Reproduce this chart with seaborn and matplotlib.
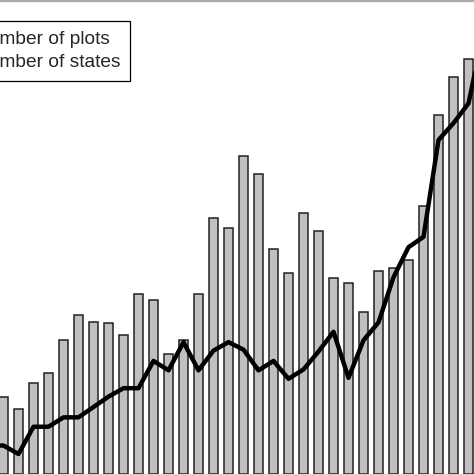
import matplotlib
matplotlib.use("Agg")
import matplotlib.pyplot as plt
from matplotlib.patches import Patch
from matplotlib.lines import Line2D
import seaborn as sns
import pandas as pd

sns.set_style("white")
plt.rcParams['font.family'] = ['Liberation Sans', 'DejaVu Sans']

# Data
years = list(range(1980, 2012))
plots = [19.2, 16.2, 22.8, 25.2, 33.5, 39.8, 38.0, 37.8, 34.8, 45.0,
         43.5, 30.0, 33.5, 45.0, 64.0, 61.5, 79.5, 75.0, 56.2, 50.2,
         65.2, 60.8, 49.0, 47.8, 40.5, 50.8, 51.5, 53.5, 67.0, 89.8,
         99.2, 103.8]
state_years = list(range(1979, 2013))
states = [2.9, 2.9, 2.0, 4.9, 4.9, 5.9, 5.9, 7.0, 8.1, 9.0,
          9.0, 11.9, 10.9, 13.9, 10.9, 13.0, 13.9, 13.1, 10.9, 11.9,
          10.0, 11.0, 12.9, 15.0, 10.1, 14.1, 16.0, 20.8, 24.0, 25.1,
          35.4, 37.2, 39.3, 46.9]
labels = ["Number of plots", "Number of states"]

W = 474
fig = plt.figure(figsize=(4.74, 4.74), dpi=100)
ax = fig.add_axes([0, 0, 1, 1])

df_bars = pd.DataFrame({"year": [str(y) for y in years], "plots": plots})
sns.barplot(data=df_bars, x="year", y="plots", color="#c0c0c0", saturation=1,
            edgecolor="#222222", linewidth=1.1, width=0.6, ax=ax)
ax.set_xlim(-3.5 / 15, (W - 3.5) / 15)
ax.set_ylim(0, W / 4)
ax.set_axis_off()

ax2 = ax.twinx()
df_line = pd.DataFrame({"pos": [y - years[0] for y in state_years], "states": states})
sns.lineplot(data=df_line, x="pos", y="states", color="black", linewidth=3.2, ax=ax2)
ax2.set_xlim(-3.5 / 15, (W - 3.5) / 15)
ax2.set_ylim(-1.2 / 9.4, (W - 1.2) / 9.4)
ax2.set_axis_off()

handles = [Patch(facecolor="#c0c0c0", edgecolor="black", linewidth=1.1),
           Line2D([0], [0], color="black", linewidth=3.2)]
leg = ax2.legend(handles, labels, loc="upper right",
                 bbox_to_anchor=(130 / W, 1 - 21 / W), bbox_transform=fig.transFigure,
                 borderaxespad=0, fontsize=13.8, frameon=True, fancybox=False,
                 framealpha=1, edgecolor="black", labelspacing=0.28, borderpad=0.52)
leg.get_frame().set_linewidth(0.9)

fig.add_artist(Line2D([0, 1], [1 - 1.0 / W, 1 - 1.0 / W], color="#aaaaaa",
                      linewidth=1.6, transform=fig.transFigure))

fig.savefig("out.png", dpi=100)
